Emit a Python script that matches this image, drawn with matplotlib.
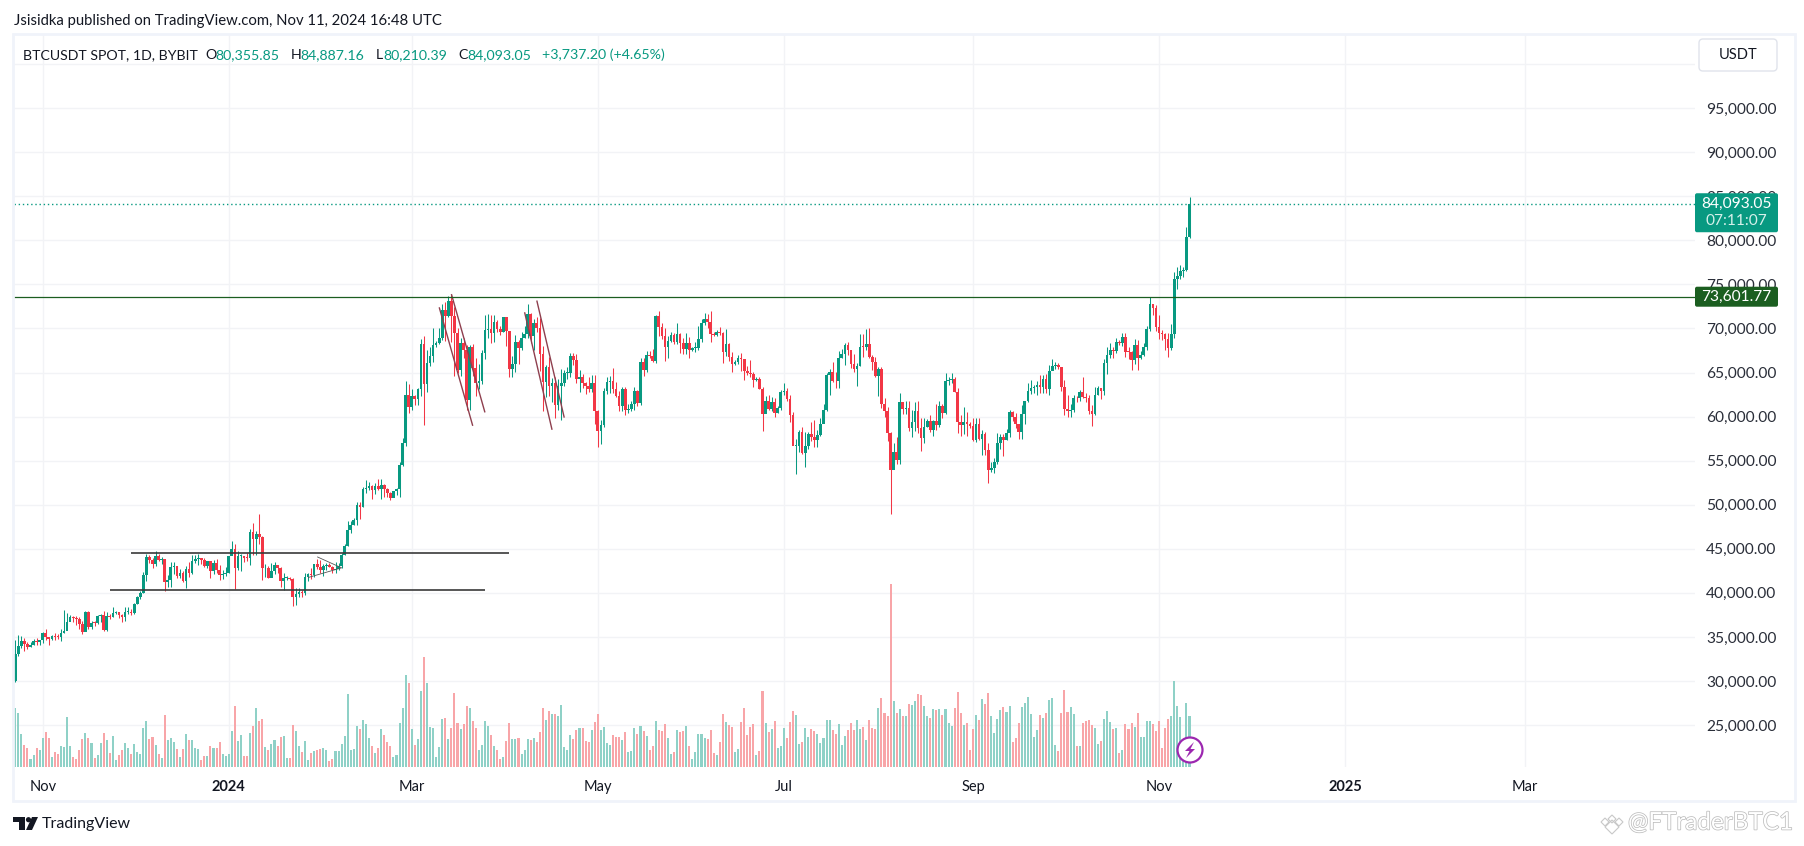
#!/usr/bin/env python
# -*- coding: utf-8 -*-
# BTCUSDT daily candles, TradingView style

import numpy as np
import pandas as pd
import matplotlib
matplotlib.use("Agg")
from matplotlib import pyplot as plt
from matplotlib.patches import Rectangle, FancyBboxPatch, Circle, Polygon
import matplotlib.dates as mdates
import matplotlib.patheffects as pe

plt.rcParams["font.family"] = ["Lato", "DejaVu Sans"]

FIRST_DAY = "2023-10-23"
FIRST_OPEN = 29990

closes = [
	33069,33922,34496,34151,33892,34081,34525,34474,34639,
	35421,34941,34732,35082,35049,35037,35443,35655,36693,37313,37138,37054,36502,35537,37880,36154,36596,36585,37386,37476,35813,37432,37289,37720,37796,37479,37254,37831,37858,37712,
	38688,39476,39978,41980,44080,43746,43293,44196,43725,43792,41243,41450,42890,43023,41929,42240,41364,42657,42275,43668,43861,43970,43702,43000,43576,42520,43442,42581,42066,42140,42283,
	44179,44946,42845,44151,44162,43968,43929,46951,46110,46653,46339,42782,42847,41732,42511,43137,42776,41327,41659,41696,41580,39568,39897,40084,39961,41816,42120,42035,43300,42946,42580,
	43082,43200,42988,42582,42708,43088,44349,45288,47132,47751,48293,49958,49742,51826,51939,52160,51663,52122,51780,52284,51839,51304,50731,51571,51733,54476,57037,62432,61130,
	62387,61987,63113,68245,63724,66074,66823,68124,68313,68955,72078,71452,73072,71388,69499,65300,68393,67609,61937,67840,65501,63796,64037,67211,69880,69988,69455,70744,69892,69645,71333,
	69702,65446,65980,68508,67837,68896,69360,71620,69146,70631,70006,67116,63924,65662,63419,63793,61277,63470,63818,64941,64941,66819,66414,64276,64498,63770,63461,63118,63866,60672,
	58364,59060,62882,63892,64012,63165,62312,61193,63074,60799,60825,61483,62940,61577,66206,65235,67024,66915,66274,71446,70136,69122,67929,68526,69265,68508,69394,68366,67635,68354,67530,
	67760,67819,68804,70567,71082,70757,69342,69310,69648,69508,67321,68241,66756,66011,66191,66639,66490,65140,64960,64828,64096,64245,63180,60277,61806,60864,61706,60427,60986,62772,
	62900,62029,60198,56639,56706,58239,55857,56714,58050,57717,57334,57889,59204,60797,64724,65043,64087,63987,66660,67139,68165,67532,65930,65372,65777,67907,67896,68249,66784,66188,64628,
	65354,61415,60680,58116,53991,56034,55027,61710,60880,60945,58712,59346,60587,58683,57541,58874,59491,58427,59479,59013,61159,60381,64037,64157,64220,62834,59415,59034,59359,59119,58973,
	57301,59132,57487,57970,56160,53949,54139,54841,57020,57648,57343,58127,60498,60000,59132,58212,60309,61759,62947,63201,63348,63578,63339,64262,63143,65181,65769,65887,65635,63327,
	60805,60649,60751,62086,62058,62818,62224,62131,60582,60274,62445,63193,62851,66046,67041,67612,67399,68418,68362,69001,67367,67361,66432,68161,66642,67014,67929,69907,72720,72339,70215,
	69482,69358,68775,67800,69374,75640,75904,76538,76677,80356,84093,
]

highs = [
	34700,35200,35100,34850,34450,34450,34800,34850,34700,
	35600,35950,34950,35250,35400,35300,35900,38000,37700,37500,37400,37400,37250,36800,37950,37950,36850,36800,37500,37650,37900,37850,37650,38400,37900,37850,37600,38400,38450,38150,
	38850,39700,40250,42400,44450,44300,43950,44700,44400,44050,43800,42000,43450,43450,43100,42750,42450,43000,43500,44300,44250,44400,44000,43950,43650,43650,43700,43800,43150,42600,42900,
	44200,45900,45500,44750,44400,44200,44500,47200,47900,47000,48950,46500,43250,43050,43350,43550,43200,42900,42200,41900,41850,41650,40550,40550,40300,42200,42200,42800,43300,43850,43700,
	43250,43400,43400,43100,43500,43400,44500,45600,48200,48150,48550,50300,50350,52000,52800,52550,52200,52450,52950,52950,52350,51950,51500,51600,51950,54900,57550,64000,63650,
	63100,62400,63200,68750,69100,67600,67950,70000,68600,70000,72800,72950,73650,73777,72400,70000,68900,68900,68100,68100,68200,66650,65950,67600,71500,71600,71500,71500,70950,70300,71350,
	71300,69700,66900,69300,68700,69600,70300,72800,71700,71100,71250,71200,68000,65850,66800,64350,64500,64300,65400,65300,65650,67200,67200,67050,65250,64800,63900,64500,64700,64700,
	60800,59600,63300,64500,64600,65500,63900,62950,63400,63400,61450,61800,63400,63050,66700,66700,67400,67400,67700,71500,71950,70650,70100,69200,69600,69500,70600,69500,68900,69500,69000,
	67850,68450,70250,71050,71750,71600,71950,69550,69850,70150,69550,69950,68400,67300,66400,67000,67250,66550,65700,66450,65050,64500,64500,63350,62300,62450,62250,62150,61200,63000,
	63800,63300,62500,60500,57500,58450,58800,58200,58250,59400,59600,58500,59850,61400,65000,65350,66150,65100,67400,67650,68400,68450,67100,67100,66100,69400,69400,69900,70000,66950,66800,
	65600,65600,62100,61100,58300,57000,57700,62700,61700,61800,61800,60700,61600,61800,59800,59800,59700,60200,59600,61400,61800,61400,64900,64500,65000,64500,63200,60200,61100,60500,59400,
	59800,59800,59800,58500,58300,56950,54800,55300,58100,58000,58000,58600,60700,60650,60400,59200,61300,61800,63800,64100,63550,64000,64750,64700,64800,65800,66500,66200,66050,65500,
	64100,62400,61450,62500,62300,63000,64450,62700,62500,61300,63400,63500,63100,66500,67900,68400,67900,68950,68650,69500,69500,67850,67450,68800,68700,67400,68300,70250,73600,72700,72700,
	71500,69800,69500,69500,70500,76400,76950,77250,77000,81500,84887,
]

lows = [
	29900,32850,33700,33400,33600,33850,34050,34050,34100,
	34300,34700,34100,34600,34600,34750,34500,35500,36300,36850,36700,36350,35950,35300,35650,35850,35900,36250,36450,36750,35700,35650,37000,37250,37600,37150,36700,36850,37600,37500,
	37600,38700,39300,39950,41400,43350,42800,43100,43600,43300,40250,40700,40650,42100,41650,41700,41250,40500,41800,42100,43400,43200,43300,42900,42800,41650,42100,42300,41500,41550,41950,
	42300,44350,40400,42600,42500,43500,43600,43200,44300,44350,45600,41500,41750,41700,41750,42100,42200,40700,40300,41500,41500,38500,38600,39500,39550,39800,41400,41600,41800,42700,42300,
	41900,42550,42900,42250,42300,42550,42800,44300,45300,46800,47700,47700,48350,49700,51300,51650,50650,51250,51650,50700,50900,50900,50500,50950,51050,50900,54450,56700,60400,
	60800,61300,61300,62300,59000,62800,65700,66200,67900,68200,68650,68600,71300,68500,64600,64900,64550,66600,60800,60800,64550,62300,63100,63650,66550,68900,68350,68500,69650,69300,69550,
	68050,64500,64500,65100,66000,67500,68900,68900,68300,67500,69600,65200,60600,62200,62300,61700,59800,60800,59600,63450,64300,64500,65800,63800,62800,63300,62550,62800,62800,59200,
	56550,56900,58800,62600,62700,62700,62200,60600,60650,60200,60450,60650,60750,61150,61350,64600,65100,66600,66150,66050,69100,68800,66300,66600,68500,68250,68250,67250,67100,67100,66700,
	67450,67300,67600,68500,70400,70050,68500,69200,69100,69250,66100,66900,66300,65100,65900,66000,65200,64100,64700,64500,63400,64000,63100,58400,60700,60700,60600,59900,60400,60700,
	62500,61800,59400,56800,53500,56000,55800,54300,56300,57200,56550,56500,57750,59450,60600,62400,63900,63250,63300,66700,65800,67000,65500,65100,63500,65750,66800,67500,66600,65300,64500,
	62300,61000,59900,57200,49000,54700,54600,54600,60300,60300,58400,57700,58400,58100,56100,57000,58800,58300,57800,58500,58800,59800,60300,63600,63800,62800,58100,57800,58000,57800,58700,
	57200,57100,57400,55600,55600,52500,53700,53600,54600,56300,55500,57300,57700,59500,58700,57500,57500,59200,61700,62600,62700,62400,62700,62700,62700,62500,65500,65450,65450,62900,
	60200,60000,59900,60500,61700,61800,62100,61700,60300,58900,60200,62400,62000,62500,64800,66700,66700,67200,68100,68000,66800,66550,65300,66000,65250,66500,66850,67600,69700,71500,69700,
	68800,68700,67500,66800,67500,68900,74500,75600,75800,76500,80210,
]

# bar heights, the volume pane has no scale of its own
volumes = [
	59,54,33,22,19,8,12,19,17,29,35,29,10,15,13,21,20,50,21,10,
	8,17,28,34,29,24,9,12,24,34,27,14,31,7,12,17,24,19,13,23,
	15,13,39,46,28,30,22,13,9,52,27,29,25,18,10,18,33,27,27,19,
	18,7,11,11,21,19,19,25,13,11,13,36,61,26,32,11,11,34,41,59,
	46,48,20,17,23,27,21,30,31,9,9,42,36,21,15,26,7,14,16,17,
	18,19,17,6,8,16,16,23,31,73,17,18,41,38,47,43,29,21,14,19,
	38,32,25,21,10,12,44,59,92,84,38,22,28,76,110,84,40,39,10,20,
	48,49,28,39,74,44,38,43,61,59,46,39,17,22,46,41,32,21,17,8,
	10,26,44,28,28,29,13,17,28,27,29,25,35,59,47,56,53,53,51,62,
	20,17,32,28,37,39,
	39,26,25,37,45,53,37,40,24,22,32,30,30,27,35,15,16,39,33,41,36,31,17,21,46,37,36,43,29,13,15,37,35,36,41,21,8,15,33,33,29,28,37,14,12,25,53,45,42,40,15,18,45,59,32,40,43,12,16,76,44,35,38,46,19,21,39,29,45,56,52,23,25,39,30,38,36,33,24,29,47,47,37,33,43,22,31,37,44,37,47,38,40,27,47,39,38,59,
	69,54,51,183,66,54,58,51,51,63,62,66,73,72,61,51,49,58,57,58,52,58,44,41,59,75,54,42,44,17,38,52,47,68,63,74,51,34,48,57,60,55,61,25,29,44,60,64,70,53,30,37,52,49,54,67,69,22,16,54,77,55,60,53,21,21,44,46,47,42,39,23,26,48,56,45,38,39,14,17,43,38,44,40,54,30,30,46,46,43,36,46,19,39,48,51,86,61,50,22,64,51,
]

price_ticks = list(range(25000, 100001, 5000))
time_ticks = ["2023-11-01", "2024-01-01", "2024-03-01", "2024-05-01", "2024-07-01",
	"2024-09-01", "2024-11-01", "2025-01-01", "2025-03-01"]
time_labels = ["Nov", "2024", "Mar", "May", "Jul", "Sep", "Nov", "2025", "Mar"]

last_price = 84093.05
level_price = 73601.77

# drawn lines: (start day, start price, end day, end price)
black_lines = [
	("2023-11-30", 44480, "2024-04-02", 44480),
	("2023-11-23", 40350, "2024-03-25", 40350),
]
triangle_lines = [
	("2024-01-30", 44090, "2024-02-07", 42840),
	("2024-01-27", 41740, "2024-02-07", 42840),
]
red_lines = [
	("2024-03-10", 72400, "2024-03-21", 58950),
	("2024-03-14", 73900, "2024-03-25", 60470),
	("2024-04-07", 71840, "2024-04-16", 58500),
	("2024-04-11", 73170, "2024-04-20", 59880),
]

GREEN = "#089981"
RED = "#F23645"
TEXT = "#131722"
GRID = "#F2F3F6"
FRAME = "#F0F3FA"

WIDTH, HEIGHT = 1804, 846
PLOT_LEFT, PLOT_RIGHT, PLOT_TOP, PLOT_BOTTOM = 14, 1695, 35, 767


def drawLines(ax, lines, color, lw):
	for d0, p0, d1, p1 in lines:
		ax.plot(pd.to_datetime([d0, d1]), [p0, p1], color=color, lw=lw, zorder=5,
			solid_capstyle="butt")


def candles(ax, axv):
	n = len(closes)
	assert len(highs) == n and len(lows) == n and len(volumes) == n
	days = pd.date_range(FIRST_DAY, periods=n)
	c = np.array(closes, dtype=float)
	o = np.r_[FIRST_OPEN, c[:-1]]
	up = c >= o
	cols = np.where(up, GREEN, RED)
	ax.vlines(days, lows, highs, colors=cols, lw=0.75, zorder=3)
	ax.bar(days, np.maximum(np.abs(c - o), 90), bottom=np.minimum(o, c), width=0.86,
		color=cols, linewidth=0, zorder=4)
	vcols = np.where(up, "#8FD1C7", "#F8A5A8")
	axv.bar(days, volumes, width=0.68, color=vcols, linewidth=0)


def header(over):
	over.text(14, 20.5, "Jsisidka published on TradingView.com, Nov 11, 2024 16:48 UTC",
		color=TEXT, fontsize=10.7, va="center")
	row = [(23, "BTCUSDT SPOT, 1D, BYBIT", TEXT), (205, "O", TEXT), (215, "80,355.85", GREEN),
		(291, "H", TEXT), (300, "84,887.16", GREEN), (376, "L", TEXT), (383, "80,210.39", GREEN),
		(458, "C", TEXT), (467, "84,093.05", GREEN), (542, "+3,737.20 (+4.65%)", GREEN)]
	for x, s, col in row:
		over.text(x, 55, s, color=col, fontsize=10.2, va="center")
	over.add_patch(FancyBboxPatch((1699, 39), 78, 32, boxstyle="round,pad=0,rounding_size=4",
		fc="white", ec="#E0E3EB", lw=1))
	over.text(1738, 55, "USDT", color=TEXT, fontsize=10.5, ha="center", va="center")


def priceBoxes(ax, over):
	# lines run up to the boxes on the price scale
	ax.axhline(last_price, color=GREEN, lw=1, ls=(0, (1, 2)), zorder=2)
	ax.axhline(level_price, color="#1B5E20", lw=0.9, zorder=6)
	y = ax.transData.transform((0, last_price))[1]
	y_last = HEIGHT - y
	y = ax.transData.transform((0, level_price))[1]
	y_level = HEIGHT - y
	mid = PLOT_RIGHT + 41.5
	over.add_patch(FancyBboxPatch((PLOT_RIGHT, y_last - 11), 83, 39,
		boxstyle="round,pad=0,rounding_size=2", fc=GREEN, ec="none"))
	over.text(mid, y_last, "{:,.2f}".format(last_price), color="white", fontsize=11.2,
		ha="center", va="center")
	over.text(mid, y_last + 17, "07:11:07", color="#D5F0EA", fontsize=11.2, ha="center", va="center")
	over.add_patch(FancyBboxPatch((PLOT_RIGHT, y_level - 10), 83, 20,
		boxstyle="round,pad=0,rounding_size=2", fc="#1B5E20", ec="none"))
	over.text(mid, y_level, "{:,.2f}".format(level_price), color="white", fontsize=11.2,
		ha="center", va="center")


def decorations(over):
	over.add_patch(Rectangle((13, 34), 1782, 767, fc="none", ec=FRAME, lw=2))
	# lightning badge
	over.add_patch(Circle((1190, 750), 12.5, fc="white", ec="#9C27B0", lw=1.6, zorder=8))
	over.add_patch(Polygon([(1194, 742), (1185, 751), (1189.5, 751), (1186, 758), (1195, 749),
		(1190.5, 749)], fc="#9C27B0", ec="none", zorder=9))
	# TradingView logo
	over.add_patch(Polygon([(13, 817), (25, 817), (25, 830), (19, 830), (19, 822), (13, 822)],
		fc=TEXT, ec="none"))
	over.add_patch(Circle((28.5, 819.7), 2.6, fc=TEXT, ec="none"))
	over.add_patch(Polygon([(32, 817), (38, 817), (32, 830), (26, 830)], fc=TEXT, ec="none"))
	over.text(42, 824, "TradingView", color=TEXT, fontsize=11.5, va="center")
	# watermark
	over.text(1628, 823, "@FTraderBTC1", color="white", fontsize=17.5, va="center",
		path_effects=[pe.withStroke(linewidth=1.1, foreground="#BDBDBD")])
	for dx, dy, r in [(0, 0, 7), (-7, -5, 4), (7, -5, 4), (0, -8, 4)]:
		over.add_patch(Polygon([(1612 + dx, 827 + dy - r), (1612 + dx + r, 827 + dy),
			(1612 + dx, 827 + dy + r), (1612 + dx - r, 827 + dy)], fc="none", ec="#C8C8C8", lw=0.8))


if __name__ == "__main__":

	fig = plt.figure(figsize=(WIDTH / 100.0, HEIGHT / 100.0), dpi=100, facecolor="white")
	rect = [PLOT_LEFT / WIDTH, 1 - PLOT_BOTTOM / HEIGHT,
		(PLOT_RIGHT - PLOT_LEFT) / WIDTH, (PLOT_BOTTOM - PLOT_TOP) / HEIGHT]
	ax = fig.add_axes(rect)
	axv = fig.add_axes(rect)

	nov = mdates.date2num(pd.Timestamp("2023-11-01"))
	xlim = (nov + (PLOT_LEFT - 42.7) / 3.05, nov + (PLOT_RIGHT - 42.7) / 3.05)
	ax.set_xlim(mdates.num2date(xlim[0]), mdates.num2date(xlim[1]))
	axv.set_xlim(ax.get_xlim())
	ax.set_ylim(20243, 103295)
	axv.set_ylim(0, PLOT_BOTTOM - PLOT_TOP)
	axv.axis("off")

	candles(ax, axv)
	drawLines(ax, black_lines, "#3A3A3A", 1.2)
	drawLines(ax, triangle_lines, "#555555", 0.6)
	drawLines(ax, red_lines, "#8E3F4E", 1.0)

	ax.set_xticks(pd.to_datetime(time_ticks))
	ax.set_xticklabels(time_labels, fontsize=10.5, color=TEXT)
	for lab in ax.get_xticklabels():
		if lab.get_text() in ("2024", "2025"):
			lab.set_fontweight("bold")
	ax.yaxis.tick_right()
	ax.set_yticks(price_ticks)
	ax.set_yticklabels(["" if p == 100000 else "{:,.2f}".format(p) for p in price_ticks],
		fontsize=11.2, color="#2A2E39")
	ax.tick_params(axis="both", length=0)
	ax.tick_params(axis="x", pad=9)
	ax.tick_params(axis="y", pad=8)
	ax.grid(True, color=GRID, lw=1)
	ax.set_axisbelow(True)
	for s in ax.spines.values():
		s.set_visible(False)

	over = fig.add_axes([0, 0, 1, 1], facecolor="none")
	over.set_xlim(0, WIDTH)
	over.set_ylim(HEIGHT, 0)
	over.axis("off")

	header(over)
	priceBoxes(ax, over)
	decorations(over)

	fig.savefig("out.png", dpi=100)
